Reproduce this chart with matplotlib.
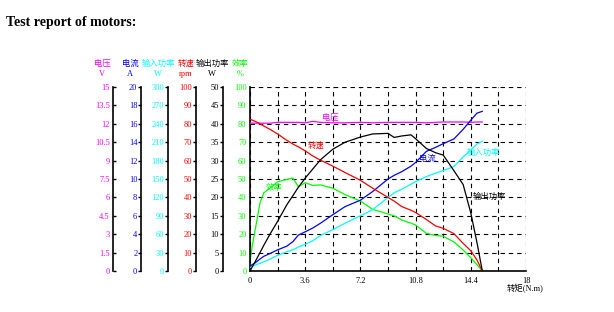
#motor test report - recreated chart
import numpy as np
import matplotlib
matplotlib.use('Agg')
import matplotlib.pyplot as plt

plt.rcParams['font.family'] = ['Liberation Serif', 'Noto Sans CJK SC']

# torque (N.m) sample points
torque = [0, 0.15, 0.35, 0.65, 0.9, 1.3, 1.8, 2.4, 2.8, 3.15, 3.6, 4.1, 4.6, 5.4, 6.2,
          7.2, 8.0, 9.0, 9.4, 9.9, 10.5, 10.8, 11.5, 12.1, 12.6, 13.3, 13.9, 14.4, 14.8, 15.15]

voltage = [12.05, 12.05, 12.05, 12.05, 12.05, 12.05, 12.12, 12.12, 12.12, 12.12, 12.08, 12.2,
           12.12, 12.08, 12.08, 12.12, 12.08, 12.12, 12.12, 12.12, 12.12, 12.12, 12.08, 12.12,
           12.15, 12.15, 12.15, 12.12, 12.15, 12.15]
current = [0.5, 0.7, 0.9, 1.3, 1.6, 1.9, 2.3, 2.7, 3.2, 3.9, 4.26, 4.68, 5.2, 6.12, 7.0,
           7.7, 8.64, 10.0, 10.4, 10.8, 11.4, 11.8, 13.0, 13.44, 13.84, 14.36, 15.4, 16.4, 17.16, 17.36]
input_power = [5.4, 7.5, 9.9, 12.6, 15, 19.5, 25.5, 31.5, 34.5, 39, 43.5, 49.5, 57.9, 67.5, 78,
               90, 99.9, 120, 127.5, 133.5, 141.6, 145.8, 153.9, 159.6, 163.8, 170.4, 186, 197.4, 207, 211.5]
speed = [82.5, 82, 81.3, 80, 78.8, 77, 74.5, 71, 69, 67.5, 65.3, 62.5, 60.2, 57, 53.5,
         49.3, 45, 40, 38, 35, 33, 31.8, 28, 24.5, 23.2, 20.3, 15, 11, 6, 0]
output_power = [0, 1.15, 2.65, 5, 7, 10, 13.5, 18, 20.5, 22.75, 25.25, 27.75, 30.25, 33.1, 35,
                36.4, 37.25, 37.4, 36.3, 36.7, 37, 35.95, 33.3, 32.15, 31.5, 27.25, 23.5, 15.75, 7.75, 0]
efficiency = [5, 14, 23, 37, 42.5, 45, 48.5, 49.8, 50.5, 45.8, 48, 46.5, 46.8, 45, 41.5,
              38, 33.5, 31, 30, 27.7, 26, 25, 20.5, 19.3, 18.9, 15.8, 11.4, 7.2, 3.5, 0]

fig = plt.figure(figsize=(6.14, 3.12), dpi=100)
fig.text(0.01, 0.927, 'Test report of motors:', fontsize=10, fontweight='bold', va='center')

ax = fig.add_axes([0.4072, 0.1314, 0.4495, 0.5897])

# (name, unit, color, values, max, spine offset, header x)
axes_info = [
    ('电压', 'V', '#ff00ff', voltage, 15, -0.496, -0.536),
    ('电流', 'A', '#0000ff', current, 20, -0.395, -0.435),
    ('输入功率', 'W', '#00ffff', input_power, 300, -0.297, -0.333),
    ('转速', 'rpm', '#ff0000', speed, 100, -0.196, -0.232),
    ('输出功率', 'W', 'black', output_power, 50, -0.098, -0.138),
]

for name, unit, color, values, vmax, offset, hx in axes_info:
    tw = ax.twinx()
    tw.set_ylim(0, vmax)
    tw.set_xlim(0, 18)
    for s in ['top', 'right', 'bottom']:
        tw.spines[s].set_visible(False)
    tw.spines['left'].set_visible(True)
    tw.spines['left'].set_position(('axes', offset))
    tw.spines['left'].set_linewidth(1.2)
    tw.yaxis.set_ticks_position('left')
    ticks = np.linspace(0, vmax, 11)
    tw.set_yticks(ticks)
    tw.set_yticklabels(['%g' % round(t, 1) for t in ticks])
    if name == '电压':
        tw.tick_params(axis='y', direction='in', length=2.2, width=1, pad=2.5, labelsize=6, labelcolor=color)
    else:
        tw.tick_params(axis='y', direction='out', length=2.2, width=1, pad=0.5, labelsize=6, labelcolor=color)
    tw.plot(torque, values, color=color, lw=0.9)
    ax.text(hx, 1.125, name, transform=ax.transAxes, color=color, fontsize=6, ha='center', va='center')
    ax.text(hx, 1.071, unit, transform=ax.transAxes, color=color, fontsize=6, ha='center', va='center')

# efficiency on main axis
ax.plot(torque, efficiency, color='#00ff00', lw=0.9)
ax.text(-0.036, 1.125, '效率', transform=ax.transAxes, color='#00ff00', fontsize=6, ha='center', va='center')
ax.text(-0.036, 1.071, '%', transform=ax.transAxes, color='#00ff00', fontsize=6, ha='center', va='center')

ax.set_xlim(0, 18)
ax.set_ylim(0, 100)
ax.set_xticks(np.arange(0, 18.1, 3.6))
ax.set_xticklabels(['0', '3.6', '7.2', '10.8', '14.4', '18'])
ax.set_xticks(np.arange(1.8, 18, 3.6), minor=True)
ax.set_yticks(np.arange(0, 101, 10))
ax.tick_params(axis='x', which='both', length=0, pad=4, labelsize=6)
ax.tick_params(axis='y', length=0, pad=2.5, labelsize=6, labelcolor='#00ff00')
ax.grid(True, which='both', color='black', linestyle=(0, (4, 3.5)), linewidth=0.8)
ax.spines['top'].set_visible(False)
ax.spines['right'].set_visible(False)
ax.spines['left'].set_linewidth(1.2)
ax.spines['bottom'].set_linewidth(1.2)
ax.set_axisbelow(True)

# labels on the curves
ax.text(5.22, 83.2, '电压', color='#ff00ff', fontsize=6, ha='center', va='center')
ax.text(4.3, 67.9, '转速', color='#ff0000', fontsize=6, ha='center', va='center')
ax.text(1.57, 45.1, '效率', color='#00ff00', fontsize=6, ha='center', va='center')
ax.text(11.54, 60.9, '电流', color='#0000ff', fontsize=6, ha='center', va='center')
ax.text(15.2, 64.1, '输入功率', color='#00ffff', fontsize=6, ha='center', va='center')
ax.text(15.6, 40.2, '输出功率', color='black', fontsize=6, ha='center', va='center')

ax.text(0.93, -0.098, '转矩(N.m)', transform=ax.transAxes, fontsize=6, ha='left', va='center')

fig.savefig('out.png', dpi=100)
